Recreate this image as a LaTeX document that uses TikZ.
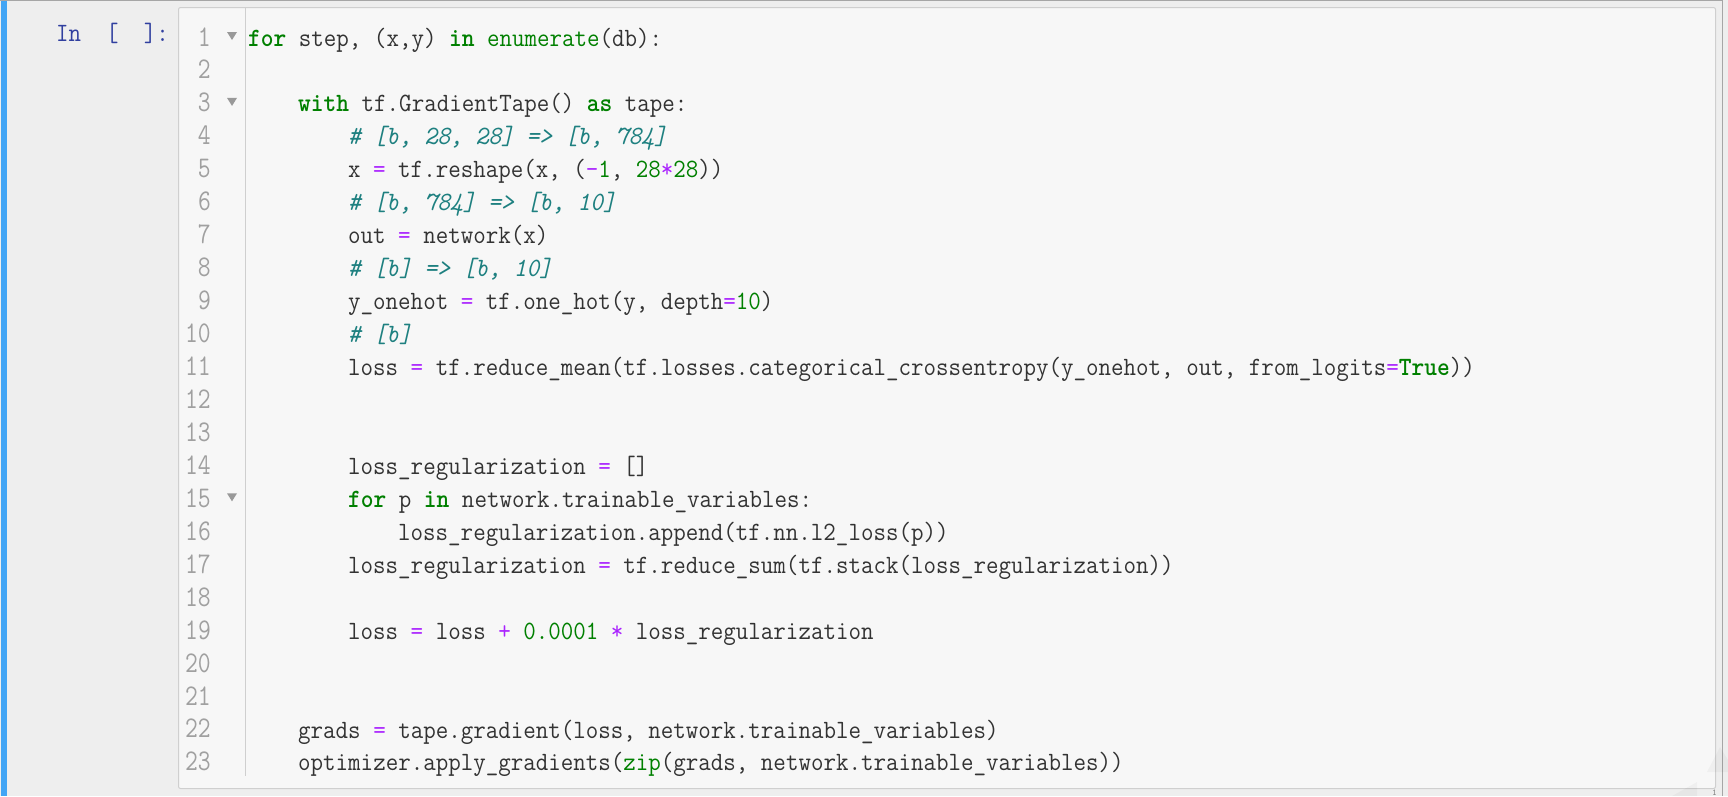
\documentclass[tikz,border=0pt]{standalone}
\usepackage{graphicx}
\usepackage{xcolor}
\definecolor{pagebg}{HTML}{EEEEEE}
\definecolor{cellbg}{HTML}{F7F7F7}
\definecolor{cellline}{HTML}{CFCFCF}
\definecolor{barblue}{HTML}{42A5F5}
\definecolor{promptblue}{HTML}{303F9F}
\definecolor{numgray}{HTML}{A0A0A0}
\definecolor{kwgreen}{HTML}{008000}
\definecolor{oppurple}{HTML}{AA22FF}
\definecolor{cmteal}{HTML}{1E8080}
\newcommand{\kwd}[1]{\textcolor{kwgreen}{\bfseries #1}}
\newcommand{\bif}[1]{\textcolor{kwgreen}{#1}}
\newcommand{\opr}[1]{\textcolor{oppurple}{#1}}
\newcommand{\cmt}[1]{\textcolor{cmteal}{\itshape #1}}
\newcommand{\squeeze}[1]{\scalebox{.92}[1]{#1}}
\newcommand{\squeezenum}[1]{\scalebox{.83}[1]{#1}}
\begin{document}
\begin{tikzpicture}[x=1pt,y=-1pt,
  code/.style={anchor=base west,inner sep=0pt,font=\fontsize{26.4}{33}\selectfont\ttfamily,text=black!80},
  lineno/.style={anchor=base east,inner sep=0pt,font=\fontsize{30}{33}\selectfont\ttfamily,text=numgray},
  fold/.style={fill=gray!80,draw=none}]
\useasboundingbox (0,0) rectangle (1728,796);
\fill[pagebg] (0,0) rectangle (1728,796);
\fill[barblue] (1,0) rectangle (7,796);
\draw[gray!70,line width=1pt] (0,.5) -- (1723,.5);
\draw[gray!70,line width=1pt] (1722.8,0) -- (1722.8,796);
\filldraw[fill=cellbg,draw=cellline,line width=1pt,rounded corners=2pt] (178.5,7.5) rectangle (1715.5,788.5);
\draw[cellline,line width=1pt] (245.5,8) -- (245.5,776);
\fill[black,opacity=.03] (1720,747) -- (1728,760) -- (1728,772) -- (1707,772) -- cycle;
\fill[black,opacity=.03] (1697,782) -- (1697,796) -- (1672,796) -- cycle;

\node[anchor=base west,inner sep=0pt,font=\fontsize{26.4}{33}\selectfont\ttfamily,text=promptblue] (prompt) at (56,41) {\squeeze{In~~[~~]:}};
\node[anchor=base east,inner sep=0pt,font=\fontsize{9}{9}\selectfont\ttfamily,text=gray] (pagenum) at (1717,795.5) {1};

% line numbers
\foreach \n in {1,...,23}
  \node[lineno] (num\n) at (211,{46+(\n-1)*32.95}) {\squeezenum{\n}};
\foreach \n in {1,3,15}
  \fill[fold] (227,{32+(\n-1)*32.95}) -- (237,{32+(\n-1)*32.95}) -- (232,{40+(\n-1)*32.95}) -- cycle;

% code
\node[code] (line1) at (248,46) {\squeeze{\kwd{for} step, (x,y) \kwd{in} \bif{enumerate}(db):}};
\node[code] (line3) at (298,111.9) {\squeeze{\kwd{with} tf.GradientTape() \kwd{as} tape:}};
\node[code] (line4) at (348,144.9) {\squeeze{\cmt{\# [b, 28, 28] => [b, 784]}}};
\node[code] (line5) at (348,177.8) {\squeeze{x \opr{=} tf.reshape(x, (\opr{-}\bif{1}, \bif{28}\opr{*}\bif{28}))}};
\node[code] (line6) at (348,210.8) {\squeeze{\cmt{\# [b, 784] => [b, 10]}}};
\node[code] (line7) at (348,243.7) {\squeeze{out \opr{=} network(x)}};
\node[code] (line8) at (348,276.7) {\squeeze{\cmt{\# [b] => [b, 10]}}};
\node[code] (line9) at (348,309.6) {\squeeze{y\_onehot \opr{=} tf.one\_hot(y, depth\opr{=}\bif{10})}};
\node[code] (line10) at (348,342.6) {\squeeze{\cmt{\# [b]}}};
\node[code] (line11) at (348,375.5) {\squeeze{loss \opr{=} tf.reduce\_mean(tf.losses.categorical\_crossentropy(y\_onehot, out, from\_logits\opr{=}\kwd{True}))}};
\node[code] (line14) at (348,474.4) {\squeeze{loss\_regularization \opr{=} []}};
\node[code] (line15) at (348,507.3) {\squeeze{\kwd{for} p \kwd{in} network.trainable\_variables:}};
\node[code] (line16) at (398,540.3) {\squeeze{loss\_regularization.append(tf.nn.l2\_loss(p))}};
\node[code] (line17) at (348,573.2) {\squeeze{loss\_regularization \opr{=} tf.reduce\_sum(tf.stack(loss\_regularization))}};
\node[code] (line19) at (348,639.1) {\squeeze{loss \opr{=} loss \opr{+} \bif{0.0001} \opr{*} loss\_regularization}};
\node[code] (line22) at (298,738) {\squeeze{grads \opr{=} tape.gradient(loss, network.trainable\_variables)}};
\node[code] (line23) at (298,770.9) {\squeeze{optimizer.apply\_gradients(\bif{zip}(grads, network.trainable\_variables))}};
\end{tikzpicture}
\end{document}
